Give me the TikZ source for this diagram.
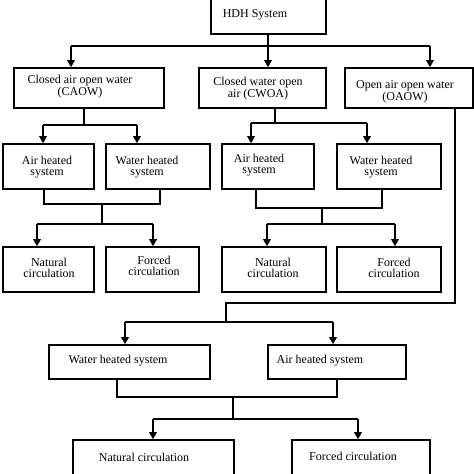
\documentclass[tikz,border=0pt]{standalone}
\usepackage{fontspec}
\setmainfont{Liberation Serif}
\usetikzlibrary{arrows.meta}
\begin{document}
\begin{tikzpicture}[x=1pt,y=-1pt,
  box/.style={draw,line width=1.6pt,inner sep=0pt,minimum width=#1},
  lbl/.style={font=\fontsize{12}{10.5}\selectfont,align=center,inner sep=0pt},
  ln/.style={line width=1.6pt},
  arr/.style={line width=1.6pt,-{Triangle[length=7pt,width=7.5pt]}}]
\useasboundingbox (0,0) rectangle (474,474);
\clip (0,0) rectangle (474,474);
% boxes
\node[box=115,minimum height=39] (hdh) at (268.5,14.5) {};
\node[box=150,minimum height=40] (caow) at (89,88) {};
\node[box=127,minimum height=40] (cwoa) at (262.5,88) {};
\node[box=128,minimum height=40] (oaow) at (409,88) {};
\node[box=91,minimum height=45] (ah1) at (48.5,166.5) {};
\node[box=104,minimum height=45] (wh1) at (158,166.5) {};
\node[box=92,minimum height=45] (ah2) at (268,166.5) {};
\node[box=104,minimum height=45] (wh2) at (389,166.5) {};
\node[box=91,minimum height=45] (nc1) at (48.5,269.5) {};
\node[box=93,minimum height=45] (fc1) at (152.5,269.5) {};
\node[box=104,minimum height=45] (nc2) at (274,269.5) {};
\node[box=104,minimum height=45] (fc2) at (389,269.5) {};
\node[box=161,minimum height=34] (wh3) at (129.5,362) {};
\node[box=138,minimum height=34] (ah3) at (337,362) {};
\node[box=161,minimum height=50] (nc3) at (153.5,465) {};
\node[box=138,minimum height=50] (fc3) at (361,465) {};
% texts
\node[lbl] (thdh) at (255,15) {HDH System};
\node[lbl] (tcaow) at (80,87) {Closed air open water\\(CAOW)};
\node[lbl] (tcwoa) at (258,89) {Closed water open\\air (CWOA)};
\node[lbl] (toaow) at (405,92) {Open air open water\\(OAOW)};
\node[lbl] (tah1) at (47,167) {Air heated\\system};
\node[lbl] (twh1) at (147,167) {Water heated\\system};
\node[lbl] (tah2) at (259,165) {Air heated\\system};
\node[lbl] (twh2) at (381,167) {Water heated\\system};
\node[lbl] (tnc1) at (49,268) {Natural\\circulation};
\node[lbl] (tfc1) at (154,266) {Forced\\circulation};
\node[lbl] (tnc2) at (273,268) {Natural\\circulation};
\node[lbl] (tfc2) at (394,268) {Forced\\circulation};
\node[lbl] (twh3) at (118,361) {Water heated system};
\node[lbl] (tah3) at (320,361) {Air heated system};
\node[lbl] (tnc3) at (144,457) {Natural circulation};
\node[lbl] (tfc3) at (353,456) {Forced circulation};
% junction coordinates
\coordinate (j0) at (268,46);
\coordinate (b0l) at (71,46);
\coordinate (b0r) at (430,46);
\coordinate (j1) at (84,125);
\coordinate (b1l) at (43,125);
\coordinate (b1r) at (137,125);
\coordinate (j2) at (275,123);
\coordinate (b2l) at (251,123);
\coordinate (b2r) at (367,123);
\coordinate (m1l) at (44,204);
\coordinate (m1r) at (160,204);
\coordinate (m1) at (102,204);
\coordinate (k1) at (102,224);
\coordinate (k1l) at (37,224);
\coordinate (k1r) at (153,224);
\coordinate (m2l) at (256,208);
\coordinate (m2r) at (382,208);
\coordinate (m2) at (322,208);
\coordinate (k2) at (322,224);
\coordinate (k2l) at (267,224);
\coordinate (k2r) at (395,224);
\coordinate (o1) at (455,303);
\coordinate (o2) at (226,303);
\coordinate (o3) at (226,322);
\coordinate (o3l) at (125,322);
\coordinate (o3r) at (333,322);
\coordinate (m3l) at (117,397);
\coordinate (m3r) at (337,397);
\coordinate (m3) at (233,397);
\coordinate (k3) at (233,419);
\coordinate (k3l) at (153,419);
\coordinate (k3r) at (358,419);
% level 1
\draw[ln] (hdh.south -| j0) -- (j0);
\draw[ln] (b0l) -- (b0r);
\draw[arr] (b0l) -- (b0l |- caow.north);
\draw[arr] (j0) -- (j0 |- cwoa.north);
\draw[arr] (b0r) -- (b0r |- oaow.north);
% CAOW split
\draw[ln] (caow.south -| j1) -- (j1);
\draw[ln] (b1l) -- (b1r);
\draw[arr] (b1l) -- (b1l |- ah1.north);
\draw[arr] (b1r) -- (b1r |- wh1.north);
% CWOA split
\draw[ln] (cwoa.south -| j2) -- (j2);
\draw[ln] (b2l) -- (b2r);
\draw[arr] (b2l) -- (b2l |- ah2.north);
\draw[arr] (b2r) -- (b2r |- wh2.north);
% left merge
\draw[ln] (ah1.south -| m1l) -- (m1l) -- (m1r) -- (wh1.south -| m1r);
\draw[ln] (m1) -- (k1);
\draw[ln] (k1l) -- (k1r);
\draw[arr] (k1l) -- (k1l |- nc1.north);
\draw[arr] (k1r) -- (k1r |- fc1.north);
% right merge
\draw[ln] (ah2.south -| m2l) -- (m2l) -- (m2r) -- (wh2.south -| m2r);
\draw[ln] (m2) -- (k2);
\draw[ln] (k2l) -- (k2r);
\draw[arr] (k2l) -- (k2l |- nc2.north);
\draw[arr] (k2r) -- (k2r |- fc2.north);
% OAOW branch
\draw[ln] (oaow.south -| o1) -- (o1) -- (o2) -- (o3);
\draw[ln] (o3l) -- (o3r);
\draw[arr] (o3l) -- (o3l |- wh3.north);
\draw[arr] (o3r) -- (o3r |- ah3.north);
% bottom merge
\draw[ln] (wh3.south -| m3l) -- (m3l) -- (m3r) -- (ah3.south -| m3r);
\draw[ln] (m3) -- (k3);
\draw[ln] (k3l) -- (k3r);
\draw[arr] (k3l) -- (k3l |- nc3.north);
\draw[arr] (k3r) -- (k3r |- fc3.north);
\end{tikzpicture}
\end{document}
